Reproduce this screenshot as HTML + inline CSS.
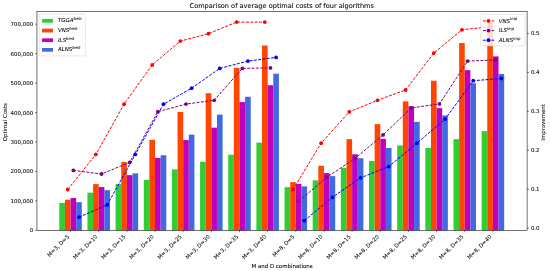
<!DOCTYPE html><html><head><meta charset="utf-8"><title>chart</title><style>html,body{margin:0;padding:0;background:#fff}svg{display:block}text{stroke:#000;stroke-width:.06px}</style></head><body><svg width="550" height="271" viewBox="0 0 550 271" font-family='"DejaVu Sans","Liberation Sans",sans-serif' font-size="5.46" fill="#000">
<rect width="550" height="271" fill="#fff"/>
<rect x="59.29" y="202.96" width="5.63" height="27.39" fill="#32CD32"/>
<rect x="87.44" y="192.65" width="5.63" height="37.70" fill="#32CD32"/>
<rect x="115.60" y="184.11" width="5.63" height="46.24" fill="#32CD32"/>
<rect x="143.76" y="179.84" width="5.63" height="50.51" fill="#32CD32"/>
<rect x="171.92" y="169.39" width="5.63" height="60.96" fill="#32CD32"/>
<rect x="200.07" y="161.73" width="5.63" height="68.62" fill="#32CD32"/>
<rect x="228.23" y="154.75" width="5.63" height="75.60" fill="#32CD32"/>
<rect x="256.39" y="142.65" width="5.63" height="87.70" fill="#32CD32"/>
<rect x="284.54" y="187.15" width="5.63" height="43.20" fill="#32CD32"/>
<rect x="312.70" y="180.34" width="5.63" height="50.01" fill="#32CD32"/>
<rect x="340.86" y="167.80" width="5.63" height="62.55" fill="#32CD32"/>
<rect x="369.01" y="161.02" width="5.63" height="69.33" fill="#32CD32"/>
<rect x="397.17" y="145.45" width="5.63" height="84.90" fill="#32CD32"/>
<rect x="425.33" y="147.89" width="5.63" height="82.46" fill="#32CD32"/>
<rect x="453.49" y="139.14" width="5.63" height="91.21" fill="#32CD32"/>
<rect x="481.64" y="131.10" width="5.63" height="99.25" fill="#32CD32"/>
<rect x="64.92" y="199.72" width="5.63" height="30.63" fill="#FF4500"/>
<rect x="93.08" y="184.11" width="5.63" height="46.24" fill="#FF4500"/>
<rect x="121.23" y="162.03" width="5.63" height="68.32" fill="#FF4500"/>
<rect x="149.39" y="139.76" width="5.63" height="90.59" fill="#FF4500"/>
<rect x="177.55" y="111.96" width="5.63" height="118.39" fill="#FF4500"/>
<rect x="205.70" y="93.26" width="5.63" height="137.09" fill="#FF4500"/>
<rect x="233.86" y="67.90" width="5.63" height="162.45" fill="#FF4500"/>
<rect x="262.02" y="45.55" width="5.63" height="184.80" fill="#FF4500"/>
<rect x="290.17" y="182.11" width="5.63" height="48.24" fill="#FF4500"/>
<rect x="318.33" y="165.80" width="5.63" height="64.55" fill="#FF4500"/>
<rect x="346.49" y="139.14" width="5.63" height="91.21" fill="#FF4500"/>
<rect x="374.65" y="124.12" width="5.63" height="106.23" fill="#FF4500"/>
<rect x="402.80" y="101.36" width="5.63" height="128.99" fill="#FF4500"/>
<rect x="430.96" y="80.74" width="5.63" height="149.61" fill="#FF4500"/>
<rect x="459.12" y="43.05" width="5.63" height="187.30" fill="#FF4500"/>
<rect x="487.27" y="22.43" width="5.63" height="207.92" fill="#FF4500"/>
<rect x="70.55" y="197.95" width="5.63" height="32.40" fill="#BF00BF"/>
<rect x="98.71" y="187.06" width="5.63" height="43.29" fill="#BF00BF"/>
<rect x="126.86" y="175.13" width="5.63" height="55.22" fill="#BF00BF"/>
<rect x="155.02" y="157.90" width="5.63" height="72.45" fill="#BF00BF"/>
<rect x="183.18" y="140.09" width="5.63" height="90.26" fill="#BF00BF"/>
<rect x="211.33" y="127.66" width="5.63" height="102.69" fill="#BF00BF"/>
<rect x="239.49" y="102.10" width="5.63" height="128.25" fill="#BF00BF"/>
<rect x="267.65" y="85.22" width="5.63" height="145.13" fill="#BF00BF"/>
<rect x="295.81" y="183.85" width="5.63" height="46.50" fill="#BF00BF"/>
<rect x="323.96" y="173.07" width="5.63" height="57.28" fill="#BF00BF"/>
<rect x="352.12" y="154.25" width="5.63" height="76.10" fill="#BF00BF"/>
<rect x="380.28" y="138.94" width="5.63" height="91.41" fill="#BF00BF"/>
<rect x="408.43" y="106.37" width="5.63" height="123.98" fill="#BF00BF"/>
<rect x="436.59" y="108.13" width="5.63" height="122.22" fill="#BF00BF"/>
<rect x="464.75" y="70.14" width="5.63" height="160.21" fill="#BF00BF"/>
<rect x="492.91" y="56.39" width="5.63" height="173.96" fill="#BF00BF"/>
<rect x="76.18" y="202.17" width="5.63" height="28.18" fill="#4169E1"/>
<rect x="104.34" y="190.15" width="5.63" height="40.20" fill="#4169E1"/>
<rect x="132.50" y="173.36" width="5.63" height="56.99" fill="#4169E1"/>
<rect x="160.65" y="155.25" width="5.63" height="75.10" fill="#4169E1"/>
<rect x="188.81" y="134.64" width="5.63" height="95.71" fill="#4169E1"/>
<rect x="216.97" y="114.61" width="5.63" height="115.74" fill="#4169E1"/>
<rect x="245.12" y="96.76" width="5.63" height="133.59" fill="#4169E1"/>
<rect x="273.28" y="73.68" width="5.63" height="156.67" fill="#4169E1"/>
<rect x="301.44" y="186.38" width="5.63" height="43.97" fill="#4169E1"/>
<rect x="329.59" y="176.10" width="5.63" height="54.25" fill="#4169E1"/>
<rect x="357.75" y="158.26" width="5.63" height="72.09" fill="#4169E1"/>
<rect x="385.91" y="147.98" width="5.63" height="82.37" fill="#4169E1"/>
<rect x="414.07" y="121.86" width="5.63" height="108.49" fill="#4169E1"/>
<rect x="442.22" y="115.50" width="5.63" height="114.85" fill="#4169E1"/>
<rect x="470.38" y="83.22" width="5.63" height="147.13" fill="#4169E1"/>
<rect x="498.54" y="73.97" width="5.63" height="156.38" fill="#4169E1"/>
<polyline points="67.73,189.50 95.89,154.40 124.05,104.20 152.21,64.90 180.36,41.10 208.52,33.70 236.68,22.10 264.83,22.10" fill="none" stroke="#FF0000" stroke-width="1.0" stroke-dasharray="2.95 1.4"/>
<polyline points="292.99,189.60 321.15,143.20 349.30,111.80 377.46,100.30 405.62,90.00 433.78,53.10 461.93,29.80 490.09,26.80" fill="none" stroke="#FF0000" stroke-width="1.0" stroke-dasharray="2.95 1.4"/>
<circle cx="67.73" cy="189.50" r="1.9" fill="#FF0000"/>
<circle cx="95.89" cy="154.40" r="1.9" fill="#FF0000"/>
<circle cx="124.05" cy="104.20" r="1.9" fill="#FF0000"/>
<circle cx="152.21" cy="64.90" r="1.9" fill="#FF0000"/>
<circle cx="180.36" cy="41.10" r="1.9" fill="#FF0000"/>
<circle cx="208.52" cy="33.70" r="1.9" fill="#FF0000"/>
<circle cx="236.68" cy="22.10" r="1.9" fill="#FF0000"/>
<circle cx="264.83" cy="22.10" r="1.9" fill="#FF0000"/>
<circle cx="292.99" cy="189.60" r="1.9" fill="#FF0000"/>
<circle cx="321.15" cy="143.20" r="1.9" fill="#FF0000"/>
<circle cx="349.30" cy="111.80" r="1.9" fill="#FF0000"/>
<circle cx="377.46" cy="100.30" r="1.9" fill="#FF0000"/>
<circle cx="405.62" cy="90.00" r="1.9" fill="#FF0000"/>
<circle cx="433.78" cy="53.10" r="1.9" fill="#FF0000"/>
<circle cx="461.93" cy="29.80" r="1.9" fill="#FF0000"/>
<circle cx="490.09" cy="26.80" r="1.9" fill="#FF0000"/>
<polyline points="73.37,170.40 101.52,174.00 129.68,162.40 157.84,111.70 185.99,104.10 214.15,100.30 242.31,68.40 270.46,67.90" fill="none" stroke="#800080" stroke-width="1.0" stroke-dasharray="2.95 1.4"/>
<polyline points="298.62,201.40 326.78,177.30 354.94,158.50 383.09,134.90 411.25,107.90 439.41,103.90 467.56,61.10 495.72,59.90" fill="none" stroke="#800080" stroke-width="1.0" stroke-dasharray="2.95 1.4"/>
<circle cx="73.37" cy="170.40" r="1.9" fill="#800080"/>
<circle cx="101.52" cy="174.00" r="1.9" fill="#800080"/>
<circle cx="129.68" cy="162.40" r="1.9" fill="#800080"/>
<circle cx="157.84" cy="111.70" r="1.9" fill="#800080"/>
<circle cx="185.99" cy="104.10" r="1.9" fill="#800080"/>
<circle cx="214.15" cy="100.30" r="1.9" fill="#800080"/>
<circle cx="242.31" cy="68.40" r="1.9" fill="#800080"/>
<circle cx="270.46" cy="67.90" r="1.9" fill="#800080"/>
<circle cx="298.62" cy="201.40" r="1.9" fill="#800080"/>
<circle cx="326.78" cy="177.30" r="1.9" fill="#800080"/>
<circle cx="354.94" cy="158.50" r="1.9" fill="#800080"/>
<circle cx="383.09" cy="134.90" r="1.9" fill="#800080"/>
<circle cx="411.25" cy="107.90" r="1.9" fill="#800080"/>
<circle cx="439.41" cy="103.90" r="1.9" fill="#800080"/>
<circle cx="467.56" cy="61.10" r="1.9" fill="#800080"/>
<circle cx="495.72" cy="59.90" r="1.9" fill="#800080"/>
<polyline points="79.00,217.20 107.15,204.90 135.31,154.40 163.47,104.20 191.63,88.20 219.78,68.40 247.94,61.10 276.10,57.40" fill="none" stroke="#0000FF" stroke-width="1.0" stroke-dasharray="2.95 1.4"/>
<polyline points="304.25,220.70 332.41,197.40 360.57,177.80 388.72,166.60 416.88,143.20 445.04,119.20 473.20,80.70 501.35,78.50" fill="none" stroke="#0000FF" stroke-width="1.0" stroke-dasharray="2.95 1.4"/>
<circle cx="79.00" cy="217.20" r="1.9" fill="#0000FF"/>
<circle cx="107.15" cy="204.90" r="1.9" fill="#0000FF"/>
<circle cx="135.31" cy="154.40" r="1.9" fill="#0000FF"/>
<circle cx="163.47" cy="104.20" r="1.9" fill="#0000FF"/>
<circle cx="191.63" cy="88.20" r="1.9" fill="#0000FF"/>
<circle cx="219.78" cy="68.40" r="1.9" fill="#0000FF"/>
<circle cx="247.94" cy="61.10" r="1.9" fill="#0000FF"/>
<circle cx="276.10" cy="57.40" r="1.9" fill="#0000FF"/>
<circle cx="304.25" cy="220.70" r="1.9" fill="#0000FF"/>
<circle cx="332.41" cy="197.40" r="1.9" fill="#0000FF"/>
<circle cx="360.57" cy="177.80" r="1.9" fill="#0000FF"/>
<circle cx="388.72" cy="166.60" r="1.9" fill="#0000FF"/>
<circle cx="416.88" cy="143.20" r="1.9" fill="#0000FF"/>
<circle cx="445.04" cy="119.20" r="1.9" fill="#0000FF"/>
<circle cx="473.20" cy="80.70" r="1.9" fill="#0000FF"/>
<circle cx="501.35" cy="78.50" r="1.9" fill="#0000FF"/>
<rect x="36.95" y="11.5" width="490.15000000000003" height="218.85" fill="none" stroke="#000" stroke-width="0.55"/>
<line x1="35.050000000000004" x2="36.95" y1="230.35" y2="230.35" stroke="#000" stroke-width="0.5"/>
<text x="33.15" y="232.32" text-anchor="end">0</text>
<line x1="35.050000000000004" x2="36.95" y1="200.90" y2="200.90" stroke="#000" stroke-width="0.5"/>
<text x="33.15" y="202.87" text-anchor="end">100,000</text>
<line x1="35.050000000000004" x2="36.95" y1="171.45" y2="171.45" stroke="#000" stroke-width="0.5"/>
<text x="33.15" y="173.42" text-anchor="end">200,000</text>
<line x1="35.050000000000004" x2="36.95" y1="142.00" y2="142.00" stroke="#000" stroke-width="0.5"/>
<text x="33.15" y="143.97" text-anchor="end">300,000</text>
<line x1="35.050000000000004" x2="36.95" y1="112.55" y2="112.55" stroke="#000" stroke-width="0.5"/>
<text x="33.15" y="114.52" text-anchor="end">400,000</text>
<line x1="35.050000000000004" x2="36.95" y1="83.10" y2="83.10" stroke="#000" stroke-width="0.5"/>
<text x="33.15" y="85.07" text-anchor="end">500,000</text>
<line x1="35.050000000000004" x2="36.95" y1="53.65" y2="53.65" stroke="#000" stroke-width="0.5"/>
<text x="33.15" y="55.62" text-anchor="end">600,000</text>
<line x1="35.050000000000004" x2="36.95" y1="24.20" y2="24.20" stroke="#000" stroke-width="0.5"/>
<text x="33.15" y="26.17" text-anchor="end">700,000</text>
<line x1="527.1" x2="529.0" y1="228.20" y2="228.20" stroke="#000" stroke-width="0.5"/>
<text x="530.90" y="230.17">0.0</text>
<line x1="527.1" x2="529.0" y1="189.25" y2="189.25" stroke="#000" stroke-width="0.5"/>
<text x="530.90" y="191.22">0.1</text>
<line x1="527.1" x2="529.0" y1="150.30" y2="150.30" stroke="#000" stroke-width="0.5"/>
<text x="530.90" y="152.27">0.2</text>
<line x1="527.1" x2="529.0" y1="111.35" y2="111.35" stroke="#000" stroke-width="0.5"/>
<text x="530.90" y="113.32">0.3</text>
<line x1="527.1" x2="529.0" y1="72.40" y2="72.40" stroke="#000" stroke-width="0.5"/>
<text x="530.90" y="74.37">0.4</text>
<line x1="527.1" x2="529.0" y1="33.45" y2="33.45" stroke="#000" stroke-width="0.5"/>
<text x="530.90" y="35.42">0.5</text>
<line x1="70.55" x2="70.55" y1="230.35" y2="232.25" stroke="#000" stroke-width="0.5"/>
<text transform="translate(69.65,237.05) rotate(-45)" text-anchor="end">M=3, D=5</text>
<line x1="98.71" x2="98.71" y1="230.35" y2="232.25" stroke="#000" stroke-width="0.5"/>
<text transform="translate(97.81,237.05) rotate(-45)" text-anchor="end">M=3, D=10</text>
<line x1="126.86" x2="126.86" y1="230.35" y2="232.25" stroke="#000" stroke-width="0.5"/>
<text transform="translate(125.96,237.05) rotate(-45)" text-anchor="end">M=3, D=15</text>
<line x1="155.02" x2="155.02" y1="230.35" y2="232.25" stroke="#000" stroke-width="0.5"/>
<text transform="translate(154.12,237.05) rotate(-45)" text-anchor="end">M=3, D=20</text>
<line x1="183.18" x2="183.18" y1="230.35" y2="232.25" stroke="#000" stroke-width="0.5"/>
<text transform="translate(182.28,237.05) rotate(-45)" text-anchor="end">M=3, D=25</text>
<line x1="211.33" x2="211.33" y1="230.35" y2="232.25" stroke="#000" stroke-width="0.5"/>
<text transform="translate(210.43,237.05) rotate(-45)" text-anchor="end">M=3, D=30</text>
<line x1="239.49" x2="239.49" y1="230.35" y2="232.25" stroke="#000" stroke-width="0.5"/>
<text transform="translate(238.59,237.05) rotate(-45)" text-anchor="end">M=3, D=35</text>
<line x1="267.65" x2="267.65" y1="230.35" y2="232.25" stroke="#000" stroke-width="0.5"/>
<text transform="translate(266.75,237.05) rotate(-45)" text-anchor="end">M=3, D=40</text>
<line x1="295.81" x2="295.81" y1="230.35" y2="232.25" stroke="#000" stroke-width="0.5"/>
<text transform="translate(294.91,237.05) rotate(-45)" text-anchor="end">M=8, D=5</text>
<line x1="323.96" x2="323.96" y1="230.35" y2="232.25" stroke="#000" stroke-width="0.5"/>
<text transform="translate(323.06,237.05) rotate(-45)" text-anchor="end">M=8, D=10</text>
<line x1="352.12" x2="352.12" y1="230.35" y2="232.25" stroke="#000" stroke-width="0.5"/>
<text transform="translate(351.22,237.05) rotate(-45)" text-anchor="end">M=8, D=15</text>
<line x1="380.28" x2="380.28" y1="230.35" y2="232.25" stroke="#000" stroke-width="0.5"/>
<text transform="translate(379.38,237.05) rotate(-45)" text-anchor="end">M=8, D=20</text>
<line x1="408.43" x2="408.43" y1="230.35" y2="232.25" stroke="#000" stroke-width="0.5"/>
<text transform="translate(407.53,237.05) rotate(-45)" text-anchor="end">M=8, D=25</text>
<line x1="436.59" x2="436.59" y1="230.35" y2="232.25" stroke="#000" stroke-width="0.5"/>
<text transform="translate(435.69,237.05) rotate(-45)" text-anchor="end">M=8, D=30</text>
<line x1="464.75" x2="464.75" y1="230.35" y2="232.25" stroke="#000" stroke-width="0.5"/>
<text transform="translate(463.85,237.05) rotate(-45)" text-anchor="end">M=8, D=35</text>
<line x1="492.91" x2="492.91" y1="230.35" y2="232.25" stroke="#000" stroke-width="0.5"/>
<text transform="translate(492.01,237.05) rotate(-45)" text-anchor="end">M=8, D=40</text>
<text x="282.03" y="267.7" text-anchor="middle" >M and D combinations</text>
<text transform="translate(6.6,122.22) rotate(-90)" text-anchor="middle">Optimal Costs</text>
<text transform="translate(545.3,122.42) rotate(-90)" text-anchor="middle">Improvement</text>
<text x="281.75" y="8.25" text-anchor="middle" font-size="6.6">Comparison of average optimal costs of four algorithms</text>
<rect x="39.2" y="14.1" width="46.2" height="41.8" rx="1" fill="#fff" fill-opacity="0.8" stroke="#ccc" stroke-width="0.45"/>
<rect x="42.05" y="19.00" width="10.95" height="3.7" fill="#32CD32"/>
<text x="58" y="22.45" font-style="italic">TGGA<tspan dy="-2.2" font-size="3.82">best</tspan></text>
<rect x="42.05" y="28.70" width="10.95" height="3.7" fill="#FF4500"/>
<text x="58" y="32.15" font-style="italic">VNS<tspan dy="-2.2" font-size="3.82">best</tspan></text>
<rect x="42.05" y="38.35" width="10.95" height="3.7" fill="#BF00BF"/>
<text x="58" y="41.80" font-style="italic">ILS<tspan dy="-2.2" font-size="3.82">best</tspan></text>
<rect x="42.05" y="48.00" width="10.95" height="3.7" fill="#4169E1"/>
<text x="58" y="51.45" font-style="italic">ALNS<tspan dy="-2.2" font-size="3.82">best</tspan></text>
<rect x="480.8" y="14.5" width="44.2" height="31.4" rx="1" fill="#fff" fill-opacity="0.8" stroke="#ccc" stroke-width="0.45"/>
<line x1="482.9" x2="494.2" y1="20.9" y2="20.9" stroke="#FF0000" stroke-width="1.0" stroke-dasharray="2.95 1.4"/>
<circle cx="488.5" cy="20.9" r="1.9" fill="#FF0000"/>
<text x="498.8" y="22.50" font-style="italic">VNS<tspan dy="-2.2" font-size="3.82">imp</tspan></text>
<line x1="482.9" x2="494.2" y1="30.6" y2="30.6" stroke="#800080" stroke-width="1.0" stroke-dasharray="2.95 1.4"/>
<circle cx="488.5" cy="30.6" r="1.9" fill="#800080"/>
<text x="498.8" y="32.20" font-style="italic">ILS<tspan dy="-2.2" font-size="3.82">imp</tspan></text>
<line x1="482.9" x2="494.2" y1="40.2" y2="40.2" stroke="#0000FF" stroke-width="1.0" stroke-dasharray="2.95 1.4"/>
<circle cx="488.5" cy="40.2" r="1.9" fill="#0000FF"/>
<text x="498.8" y="41.80" font-style="italic">ALNS<tspan dy="-2.2" font-size="3.82">imp</tspan></text>
</svg></body></html>
